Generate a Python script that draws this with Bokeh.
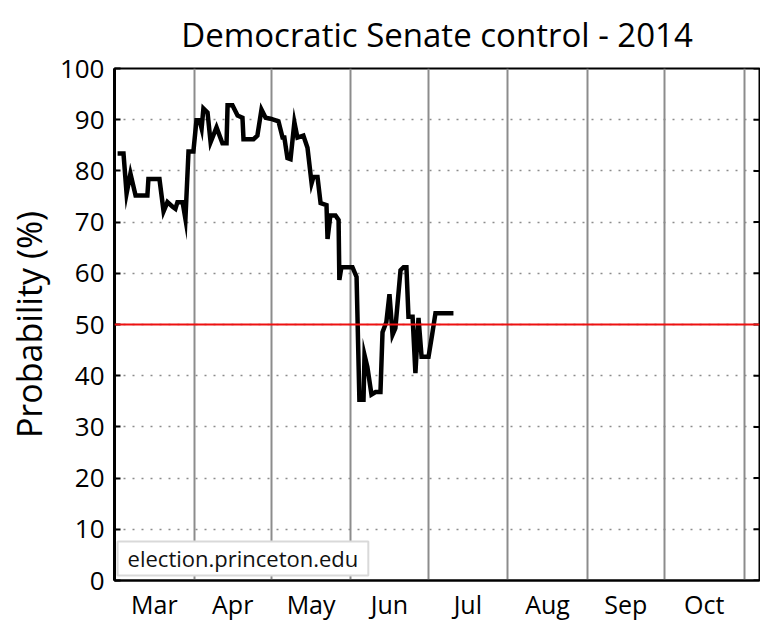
import math
from bokeh.plotting import figure
from bokeh.models import (FixedTicker, Span, Label, Range1d, ColumnDataSource)
from bokeh.embed import file_html
from bokeh.resources import INLINE

# Days counted from March 1, 2014
days = [1.2, 3.5, 4.7, 6.2, 8.2, 12.8, 13.2, 17.5, 19.1, 20.6, 22.6, 23.7, 24.5, 26.5,
        27.6, 28.8, 30.7, 31.9, 33.1, 33.9, 34.6, 36.2, 37.4, 39.7, 42.0, 43.6, 44.0,
        45.9, 47.9, 49.8, 50.2, 54.1, 55.6, 57.2, 58.8, 60.7, 63.8, 65.4, 66.1, 67.3,
        68.5, 70.0, 71.2, 73.5, 75.1, 76.7, 77.4, 79.0, 80.2, 82.5, 82.9, 84.0, 86.0,
        87.2, 87.5, 88.3, 92.6, 94.2, 95.3, 96.9, 97.3, 98.4, 100.0, 101.6, 103.5,
        104.3, 105.8, 107.0, 108.2, 109.3, 111.3, 112.5, 113.6, 114.4, 116.0, 117.1,
        118.3, 119.5, 122.2, 123.7, 124.9, 131.9]
prob = [83.4, 83.4, 75.6, 79.5, 75.2, 75.2, 78.4, 78.4, 72.1, 73.9, 73.0, 72.6, 73.9, 73.9,
        70.6, 83.8, 83.8, 89.9, 89.9, 88.3, 92.2, 91.4, 85.6, 88.5, 85.4, 85.4, 92.8,
        92.8, 90.8, 90.4, 86.2, 86.2, 86.9, 92.0, 90.4, 90.2, 89.7, 86.5, 86.5, 82.5,
        82.3, 89.5, 86.5, 86.9, 84.5, 77.6, 78.8, 78.8, 73.7, 73.3, 66.7, 71.3, 71.3,
        70.4, 58.7, 61.2, 61.2, 59.3, 35.3, 35.3, 44.0, 41.7, 36.3, 36.8, 36.8,
        48.5, 50.5, 55.9, 48.0, 49.3, 60.6, 61.2, 61.2, 51.5, 51.5, 40.5,
        51.3, 43.7, 43.7, 48.3, 52.2, 52.2]

month_names = ["Mar", "Apr", "May", "Jun", "Jul", "Aug", "Sep", "Oct"]
month_starts = [0, 31, 61, 92, 122, 153, 184, 214, 245]
y_ticks = [0, 10, 20, 30, 40, 50, 60, 70, 80, 90, 100]
threshold = 50
x_end = 251
title_text = "Democratic Senate control - 2014"
ylabel_text = "Probability (%)"
credit_text = "election.princeton.edu"

FONT = "Open Sans"

p = figure(frame_width=645, frame_height=512, output_backend="svg", toolbar_location=None,
           x_range=Range1d(0, x_end), y_range=Range1d(0, 100),
           min_border_left=114, min_border_right=1, min_border_top=68, min_border_bottom=35,
           y_axis_label=ylabel_text)

p.title.text = title_text
p.title.align = "center"
p.title.vertical_align = "top"
p.title.text_font = FONT
p.title.text_font_size = "33px"
p.title.text_font_style = "normal"
p.title.text_color = "black"
p.title.standoff = 20

p.outline_line_color = "black"
p.outline_line_width = 2
p.background_fill_color = "white"
p.border_fill_color = "white"

# x axis: labels at mid-month, no ticks
mids = [(month_starts[i] + month_starts[i + 1]) / 2 for i in range(len(month_names))]
xa = p.xaxis[0]
xa.ticker = FixedTicker(ticks=mids)
xa.major_label_overrides = {m: n for m, n in zip(mids, month_names)}
xa.major_tick_line_color = None
xa.minor_tick_line_color = None
xa.axis_line_color = "black"
xa.axis_line_width = 2
xa.major_label_text_font = FONT
xa.major_label_text_font_size = "25px"
xa.major_label_text_color = "black"
xa.major_label_standoff = 0

ya = p.yaxis[0]
ya.ticker = FixedTicker(ticks=y_ticks)
ya.major_tick_in = 6
ya.major_tick_out = 0
ya.major_tick_line_width = 2
ya.minor_tick_line_color = None
ya.axis_line_width = 3
ya.major_label_text_font = FONT
ya.major_label_text_font_size = "26px"
ya.major_label_text_color = "black"
ya.major_label_standoff = 10
ya.axis_label_text_font = FONT
ya.axis_label_text_font_size = "34px"
ya.axis_label_text_font_style = "normal"
ya.axis_label_text_color = "black"
ya.axis_label_standoff = 5

# inward ticks on the right frame edge
p.ray(x=[x_end] * len(y_ticks), y=y_ticks, length=6, length_units="screen",
      angle=math.pi, line_color="black", line_width=2)

p.xgrid.ticker = FixedTicker(ticks=month_starts)
p.xgrid.grid_line_color = "#8c8c8c"
p.xgrid.grid_line_width = 2
p.ygrid.ticker = FixedTicker(ticks=y_ticks)
p.ygrid.grid_line_color = "#8c8c8c"
p.ygrid.grid_line_width = 1.5
p.ygrid.grid_line_dash = "2 7"

p.add_layout(Span(location=threshold, dimension="width", line_color="#ee1111", line_width=2))

src = ColumnDataSource(dict(x=days, y=prob))
p.line("x", "y", source=src, line_color="black", line_width=4.5, line_join="miter")

p.add_layout(Label(x=1.2, y=1.0, text=credit_text, text_font=FONT,
                   text_font_size="22px", text_color="#111111",
                   background_fill_color="white", border_line_color="#d9d9d9",
                   border_line_width=2, padding=(10, 2)))

open("out.html", "w").write(file_html(p, INLINE))
